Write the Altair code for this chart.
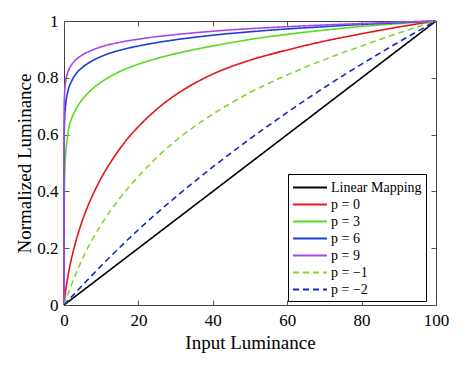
import altair as alt
import pandas as pd

series_names = ["Linear Mapping", "p = 0", "p = 3", "p = 6", "p = 9", "p = \u22121", "p = \u22122"]
colors = ["#000000", "#e3161c", "#55dd1c", "#1c3fd6", "#a945f0", "#7fd82a", "#1426c4"]
dashes = [[1, 0], [1, 0], [1, 0], [1, 0], [1, 0], [6, 4], [6, 4]]

x_ticks = [0, 20, 40, 60, 80, 100]
y_ticks = [0, 0.2, 0.4, 0.6, 0.8, 1]

linear_x = [0, 100]
linear_y = [0, 1]

red_x = [0, 0.25, 0.5, 1, 1.5, 2, 3, 4, 5, 6, 8, 10, 12.5, 15, 17.5, 20, 25, 30, 35, 40,
         50, 60, 70, 80, 90, 100]
red_y = [0, 0.03, 0.055, 0.097, 0.132, 0.163, 0.215, 0.26, 0.30, 0.335, 0.395, 0.447,
         0.502, 0.55, 0.592, 0.628, 0.69, 0.74, 0.78, 0.813, 0.862, 0.898, 0.929, 0.955,
         0.979, 1]

green_dash_x = [0, 1, 2, 3, 4, 5, 7.5, 10, 12.5, 15, 17.5, 20, 25, 30, 35, 40, 50, 60, 70,
                80, 90, 100]
green_dash_y = [0, 0.036, 0.071, 0.104, 0.135, 0.164, 0.228, 0.283, 0.332, 0.376, 0.416,
                0.453, 0.52, 0.578, 0.628, 0.672, 0.748, 0.81, 0.864, 0.912, 0.958, 1]

blue_dash_x = [0, 5, 10, 15, 20, 30, 40, 50, 60, 70, 80, 90, 100]
blue_dash_y = [0, 0.07, 0.138, 0.203, 0.265, 0.38, 0.486, 0.585, 0.678, 0.766, 0.848, 0.926, 1]

green_x = [0, 0.02, 0.05, 0.1, 0.2, 0.35, 0.5, 0.75, 1, 1.5, 2, 3, 4, 5, 6, 8, 10, 12.5,
           15, 20, 25, 30, 40, 50, 60, 70, 80, 90, 100]
green_y = [0, 0.26, 0.34, 0.40, 0.46, 0.51, 0.54, 0.575, 0.60, 0.635, 0.655, 0.685, 0.707,
           0.725, 0.74, 0.765, 0.785, 0.805, 0.822, 0.848, 0.868, 0.885, 0.912, 0.935,
           0.953, 0.968, 0.981, 0.991, 1]

blue_x = [0, 0.005, 0.01, 0.02, 0.05, 0.1, 0.2, 0.5, 1, 2, 3, 5, 7.5, 10, 15, 20, 25, 30,
          40, 50, 60, 70, 80, 90, 100]
blue_y = [0, 0.46, 0.5, 0.538, 0.587, 0.625, 0.662, 0.712, 0.75, 0.787, 0.81, 0.837, 0.859,
          0.875, 0.897, 0.912, 0.924, 0.934, 0.95, 0.962, 0.972, 0.98, 0.988, 0.994, 1]

purple_x = [0, 0.005, 0.01, 0.02, 0.05, 0.1, 0.2, 0.5, 1, 2, 3, 5, 7.5, 10, 15, 20, 25, 30,
            40, 50, 60, 70, 80, 90, 100]
purple_y = [0, 0.61, 0.636, 0.664, 0.70, 0.727, 0.755, 0.791, 0.818, 0.845, 0.861, 0.881,
            0.897, 0.909, 0.925, 0.936, 0.945, 0.952, 0.964, 0.973, 0.98, 0.986, 0.991,
            0.996, 1]

all_series = [
    (series_names[0], linear_x, linear_y),
    (series_names[1], red_x, red_y),
    (series_names[2], green_x, green_y),
    (series_names[3], blue_x, blue_y),
    (series_names[4], purple_x, purple_y),
    (series_names[5], green_dash_x, green_dash_y),
    (series_names[6], blue_dash_x, blue_dash_y),
]
rows = []
for name, xs, ys in all_series:
    for xv, yv in zip(xs, ys):
        rows.append({"series": name, "x": xv, "y": yv})
df = pd.DataFrame(rows)

FONT = "Liberation Serif"
W, H = 372, 284

leg = alt.Legend(
    title="", orient="none", legendX=224, legendY=153,
    strokeColor="#000000", fillColor="white", padding=4,
    symbolType="M-1,0H3", symbolSize=289, symbolStrokeWidth=2, symbolOffset=0,
    labelOffset=20, labelFont=FONT, labelFontSize=14, labelColor="black",
    rowPadding=0, symbolLimit=10,
)

xscale = alt.Scale(domain=[0, 100], nice=False)
yscale = alt.Scale(domain=[0, 1], nice=False)

main = alt.Chart(df).mark_line(strokeWidth=1.6, interpolate="monotone").encode(
    x=alt.X("x:Q", scale=xscale, axis=alt.Axis(
        orient="bottom", values=x_ticks, title="Input Luminance", tickSize=0,
        domain=False, grid=False, labelPadding=7, titlePadding=5, labelFlush=False,
        labelFont=FONT, labelFontSize=17, labelColor="black",
        titleFont=FONT, titleFontSize=19, titleFontWeight="normal", titleColor="black")),
    y=alt.Y("y:Q", scale=yscale, axis=alt.Axis(
        orient="left", values=y_ticks, format="~g", title="Normalized Luminance", tickSize=0,
        domain=False, grid=False, labelPadding=6, titlePadding=2, labelFlush=False,
        labelFont=FONT, labelFontSize=17, labelColor="black",
        titleFont=FONT, titleFontSize=19, titleFontWeight="normal", titleColor="black")),
    color=alt.Color("series:N", scale=alt.Scale(domain=series_names, range=colors), legend=leg),
    strokeDash=alt.StrokeDash("series:N", scale=alt.Scale(domain=series_names, range=dashes), legend=leg),
)

tick_df = pd.DataFrame({"x": linear_x, "y": linear_y})
tick_common = dict(labels=False, domain=False, grid=False, title="", tickSize=5,
                   tickColor="#555555", tickWidth=1)

layer_b = alt.Chart(tick_df).mark_line(strokeOpacity=0).encode(
    x=alt.X("x:Q", axis=alt.Axis(orient="top", offset=-H, values=x_ticks, **tick_common)),
    y=alt.Y("y:Q", axis=alt.Axis(orient="right", offset=-W, values=y_ticks, **tick_common)),
)
layer_c = alt.Chart(tick_df).mark_line(strokeOpacity=0).encode(
    x=alt.X("x:Q", axis=alt.Axis(orient="bottom", offset=-H, values=x_ticks, **tick_common)),
    y=alt.Y("y:Q", axis=alt.Axis(orient="left", offset=-W, values=y_ticks, **tick_common)),
)

chart = alt.layer(main, layer_b, layer_c).resolve_axis(
    x="independent", y="independent"
).properties(
    width=W, height=H,
    padding={"left": 56, "top": 13, "right": 30, "bottom": 53},
    autosize=alt.AutoSizeParams(type="none"),
).configure_view(
    stroke="#444444", strokeWidth=1
)

chart.save("out.html", embed_options={"renderer": "svg", "actions": False})
